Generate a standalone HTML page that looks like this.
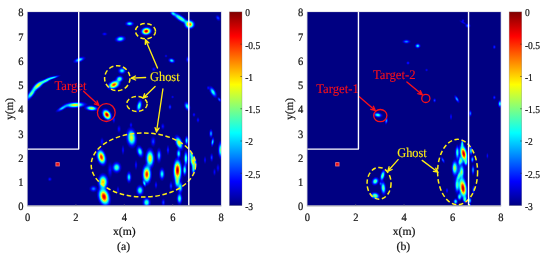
<!DOCTYPE html>
<html><head><meta charset="utf-8"><title>Imaging results</title>
<style>
html,body{margin:0;padding:0;background:#fff}
svg{display:block}
text{font-family:"Liberation Serif","Times New Roman",serif;text-rendering:geometricPrecision}
.t{font-size:11.3px;fill:#111;stroke:#111;stroke-width:.22px}
.c{font-size:10.5px;fill:#111;stroke:#111;stroke-width:.2px}
.l{font-size:11.7px;fill:#111;stroke:#111;stroke-width:.2px}
.a{font-size:13.3px;stroke-width:.12px}
</style></head><body>
<svg width="550" height="257" viewBox="0 0 550 257">
<defs>
<radialGradient id="gb">
<stop offset="0" stop-color="#fff" stop-opacity="1"/>
<stop offset=".15" stop-color="#fff" stop-opacity=".93"/>
<stop offset=".3" stop-color="#fff" stop-opacity=".75"/>
<stop offset=".45" stop-color="#fff" stop-opacity=".52"/>
<stop offset=".6" stop-color="#fff" stop-opacity=".31"/>
<stop offset=".75" stop-color="#fff" stop-opacity=".15"/>
<stop offset=".9" stop-color="#fff" stop-opacity=".045"/>
<stop offset="1" stop-color="#fff" stop-opacity="0"/>
</radialGradient>
<linearGradient id="cb" x1="0" y1="0" x2="0" y2="1">
<stop offset="0" stop-color="#800000"/><stop offset=".125" stop-color="#ff0000"/>
<stop offset=".375" stop-color="#ffff00"/><stop offset=".625" stop-color="#00ffff"/>
<stop offset=".875" stop-color="#0000ff"/><stop offset="1" stop-color="#000082"/>
</linearGradient>
<clipPath id="cja"><rect x="27.5" y="11.9" width="193.6" height="193.7"/></clipPath><filter id="ja" filterUnits="userSpaceOnUse" x="26.5" y="10.9" width="195.6" height="195.7" color-interpolation-filters="sRGB"><feComponentTransfer><feFuncR type="table" tableValues="0 0 0 0 .5 1 1 1 .5"/><feFuncG type="table" tableValues="0 0 .5 1 1 1 .5 0 0"/><feFuncB type="table" tableValues=".51 1 1 1 .5 0 0 0 0"/></feComponentTransfer></filter>
<clipPath id="cjb"><rect x="307.25" y="11.9" width="193.6" height="193.7"/></clipPath><filter id="jb" filterUnits="userSpaceOnUse" x="306.25" y="10.9" width="195.6" height="195.7" color-interpolation-filters="sRGB"><feComponentTransfer><feFuncR type="table" tableValues="0 0 0 0 .5 1 1 1 .5"/><feFuncG type="table" tableValues="0 0 .5 1 1 1 .5 0 0"/><feFuncB type="table" tableValues=".51 1 1 1 .5 0 0 0 0"/></feComponentTransfer></filter>
</defs>
<rect width="550" height="257" fill="#fff"/>
<g clip-path="url(#cja)"><g filter="url(#ja)"><rect x="25.5" y="9.9" width="197.6" height="197.7" fill="#000"/>
<ellipse cx="79.3" cy="59.8" rx="7.4" ry="3.1" fill="url(#gb)" opacity="0.4" transform="rotate(-20 79.3 59.8)"/>
<ellipse cx="31.5" cy="93.5" rx="10.8" ry="3.5" fill="url(#gb)" opacity="0.5" transform="rotate(-54 31.5 93.5)"/>
<ellipse cx="38" cy="85.5" rx="9.5" ry="3.8" fill="url(#gb)" opacity="0.62" transform="rotate(-40 38 85.5)"/>
<ellipse cx="46" cy="80.6" rx="10.8" ry="2.7" fill="url(#gb)" opacity="0.46" transform="rotate(-28 46 80.6)"/>
<ellipse cx="53.5" cy="77.6" rx="8.1" ry="1.8" fill="url(#gb)" opacity="0.36" transform="rotate(-18 53.5 77.6)"/>
<ellipse cx="62.5" cy="108" rx="8.8" ry="2.7" fill="url(#gb)" opacity="0.36" transform="rotate(-30 62.5 108)"/>
<ellipse cx="75" cy="105" rx="13.5" ry="3.8" fill="url(#gb)" opacity="0.64" transform="rotate(-3 75 105)"/>
<ellipse cx="91.5" cy="108.3" rx="8.1" ry="3.4" fill="url(#gb)" opacity="0.58" transform="rotate(5 91.5 108.3)"/>
<ellipse cx="106.9" cy="114.7" rx="7.6" ry="5.2" fill="url(#gb)" opacity="0.97" transform="rotate(58 106.9 114.7)"/>
<ellipse cx="113.8" cy="119.5" rx="2.0" ry="4.7" fill="url(#gb)" opacity="0.16"/>
<ellipse cx="129.6" cy="23.7" rx="5.4" ry="3.1" fill="url(#gb)" opacity="0.4"/>
<ellipse cx="120.3" cy="39" rx="6.5" ry="3.9" fill="url(#gb)" opacity="0.43" transform="rotate(-10 120.3 39)"/>
<ellipse cx="104.6" cy="34" rx="3.4" ry="2.2" fill="url(#gb)" opacity="0.15"/>
<ellipse cx="146.3" cy="31.2" rx="6.6" ry="5.0" fill="url(#gb)" opacity="0.96" transform="rotate(-10 146.3 31.2)"/>
<ellipse cx="122" cy="70.7" rx="4.9" ry="4.1" fill="url(#gb)" opacity="0.4"/>
<ellipse cx="119.5" cy="79" rx="4.9" ry="4.1" fill="url(#gb)" opacity="0.5" transform="rotate(-20 119.5 79)"/>
<ellipse cx="114" cy="84.7" rx="8.4" ry="5.1" fill="url(#gb)" opacity="0.84" transform="rotate(-25 114 84.7)"/>
<ellipse cx="139.3" cy="105.8" rx="3.4" ry="8.0" fill="url(#gb)" opacity="0.46" transform="rotate(12 139.3 105.8)"/>
<ellipse cx="153.8" cy="69.2" rx="2.7" ry="2.7" fill="url(#gb)" opacity="0.16"/>
<ellipse cx="171.7" cy="60.6" rx="4.3" ry="3.1" fill="url(#gb)" opacity="0.38" transform="rotate(20 171.7 60.6)"/>
<ellipse cx="188" cy="59.5" rx="2.7" ry="4.1" fill="url(#gb)" opacity="0.2"/>
<ellipse cx="187.2" cy="106.3" rx="3.5" ry="5.8" fill="url(#gb)" opacity="0.4" transform="rotate(-20 187.2 106.3)"/>
<ellipse cx="170" cy="107" rx="2.0" ry="3.4" fill="url(#gb)" opacity="0.2"/>
<ellipse cx="189.5" cy="24.4" rx="6.5" ry="5.7" fill="url(#gb)" opacity="0.82"/>
<ellipse cx="180.5" cy="18.3" rx="13.5" ry="3.8" fill="url(#gb)" opacity="0.5" transform="rotate(34 180.5 18.3)"/>
<ellipse cx="173" cy="13.5" rx="4.0" ry="2.8" fill="url(#gb)" opacity="0.3" transform="rotate(34 173 13.5)"/>
<ellipse cx="213" cy="92" rx="3.5" ry="7.8" fill="url(#gb)" opacity="0.42" transform="rotate(-30 213 92)"/>
<ellipse cx="219.3" cy="99.5" rx="2.0" ry="3.4" fill="url(#gb)" opacity="0.25" transform="rotate(-30 219.3 99.5)"/>
<ellipse cx="211" cy="133.6" rx="2.36" ry="5.55" fill="url(#gb)" opacity="0.3"/>
<ellipse cx="194" cy="114.7" rx="2.0" ry="2.7" fill="url(#gb)" opacity="0.15"/>
<ellipse cx="172.6" cy="97" rx="2.0" ry="2.0" fill="url(#gb)" opacity="0.12"/>
<ellipse cx="218" cy="18" rx="2.7" ry="4.1" fill="url(#gb)" opacity="0.2" transform="rotate(-30 218 18)"/>
<ellipse cx="166" cy="56" rx="2.0" ry="2.0" fill="url(#gb)" opacity="0.12"/>
<ellipse cx="208.2" cy="87.9" rx="2.0" ry="2.7" fill="url(#gb)" opacity="0.14"/>
<ellipse cx="49.8" cy="179.2" rx="2.6" ry="2.6" fill="url(#gb)" opacity="0.16"/>
<ellipse cx="93.5" cy="188.8" rx="4.84" ry="4.13" fill="url(#gb)" opacity="0.26"/>
<ellipse cx="101.4" cy="157.1" rx="5.66" ry="10.38" fill="url(#gb)" opacity="0.86" transform="rotate(-15 101.4 157.1)"/>
<ellipse cx="116.6" cy="167.5" rx="5.66" ry="6.84" fill="url(#gb)" opacity="0.47"/>
<ellipse cx="131.5" cy="137.7" rx="6.37" ry="11.8" fill="url(#gb)" opacity="0.62" transform="rotate(-5 131.5 137.7)"/>
<ellipse cx="140" cy="151.6" rx="4.13" ry="7.55" fill="url(#gb)" opacity="0.43" transform="rotate(-15 140 151.6)"/>
<ellipse cx="150" cy="158.5" rx="5.55" ry="12.15" fill="url(#gb)" opacity="0.67"/>
<ellipse cx="146.8" cy="174.3" rx="5.78" ry="12.15" fill="url(#gb)" opacity="0.86"/>
<ellipse cx="103" cy="182" rx="6.37" ry="9.91" fill="url(#gb)" opacity="0.7"/>
<ellipse cx="104" cy="196.7" rx="7.32" ry="12.15" fill="url(#gb)" opacity="0.93" transform="rotate(-15 104 196.7)"/>
<ellipse cx="129" cy="177.2" rx="3.19" ry="7.08" fill="url(#gb)" opacity="0.38"/>
<ellipse cx="144.3" cy="183.5" rx="2.12" ry="4.72" fill="url(#gb)" opacity="0.34" transform="rotate(-20 144.3 183.5)"/>
<ellipse cx="110" cy="170" rx="3.19" ry="9.56" fill="url(#gb)" opacity="0.15"/>
<ellipse cx="153.2" cy="141.5" rx="3.19" ry="6.37" fill="url(#gb)" opacity="0.2"/>
<ellipse cx="102" cy="141.5" rx="2.36" ry="4.84" fill="url(#gb)" opacity="0.15"/>
<ellipse cx="119" cy="129" rx="2.36" ry="4.84" fill="url(#gb)" opacity="0.15"/>
<ellipse cx="140" cy="190.4" rx="4.72" ry="6.61" fill="url(#gb)" opacity="0.45"/>
<ellipse cx="146.6" cy="202.5" rx="4.96" ry="6.37" fill="url(#gb)" opacity="0.46"/>
<ellipse cx="159" cy="155.4" rx="3.19" ry="8.85" fill="url(#gb)" opacity="0.33"/>
<ellipse cx="162" cy="174" rx="3.54" ry="7.67" fill="url(#gb)" opacity="0.4"/>
<ellipse cx="179" cy="142.8" rx="4.48" ry="9.44" fill="url(#gb)" opacity="0.64" transform="rotate(-20 179 142.8)"/>
<ellipse cx="186.6" cy="140.6" rx="2.36" ry="5.9" fill="url(#gb)" opacity="0.38"/>
<ellipse cx="177.5" cy="176" rx="6.49" ry="18.88" fill="url(#gb)" opacity="0.2"/>
<ellipse cx="177.5" cy="170.2" rx="5.19" ry="14.16" fill="url(#gb)" opacity="0.95"/>
<ellipse cx="185.9" cy="158.5" rx="2.83" ry="10.03" fill="url(#gb)" opacity="0.45"/>
<ellipse cx="184.7" cy="170" rx="2.6" ry="7.67" fill="url(#gb)" opacity="0.44"/>
<ellipse cx="193.2" cy="161.5" rx="4.37" ry="8.85" fill="url(#gb)" opacity="0.67" transform="rotate(-15 193.2 161.5)"/>
<ellipse cx="191.2" cy="154.5" rx="2.6" ry="5.9" fill="url(#gb)" opacity="0.38" transform="rotate(-15 191.2 154.5)"/>
<ellipse cx="193.5" cy="169" rx="2.83" ry="7.67" fill="url(#gb)" opacity="0.4"/>
<ellipse cx="178.7" cy="153.6" rx="2.95" ry="6.49" fill="url(#gb)" opacity="0.4"/>
<ellipse cx="177.3" cy="182" rx="3.3" ry="7.67" fill="url(#gb)" opacity="0.4"/>
<ellipse cx="180.3" cy="187.5" rx="3.3" ry="7.67" fill="url(#gb)" opacity="0.4"/>
<ellipse cx="179.5" cy="198.5" rx="3.54" ry="7.67" fill="url(#gb)" opacity="0.44"/>
<ellipse cx="163.3" cy="202.5" rx="2.36" ry="4.84" fill="url(#gb)" opacity="0.2"/>
<ellipse cx="221" cy="150" rx="3.78" ry="10.62" fill="url(#gb)" opacity="0.5"/>
<ellipse cx="211.7" cy="157.5" rx="2.12" ry="5.31" fill="url(#gb)" opacity="0.2"/>
<ellipse cx="218" cy="168" rx="2.12" ry="5.31" fill="url(#gb)" opacity="0.13"/>
<ellipse cx="162.8" cy="126.4" rx="2.36" ry="4.01" fill="url(#gb)" opacity="0.15"/>
<ellipse cx="131" cy="125" rx="2.0" ry="3.4" fill="url(#gb)" opacity="0.15"/>
<ellipse cx="198" cy="120" rx="2.0" ry="3.4" fill="url(#gb)" opacity="0.15"/>
<ellipse cx="212.6" cy="142" rx="2.12" ry="5.9" fill="url(#gb)" opacity="0.36" transform="rotate(8 212.6 142)"/>
<ellipse cx="214.5" cy="172" rx="1.89" ry="4.72" fill="url(#gb)" opacity="0.13"/>
<ellipse cx="205" cy="160" rx="1.77" ry="4.72" fill="url(#gb)" opacity="0.14"/>
<ellipse cx="168" cy="150" rx="1.89" ry="5.9" fill="url(#gb)" opacity="0.18"/>
<ellipse cx="171" cy="186" rx="2.12" ry="5.9" fill="url(#gb)" opacity="0.2"/>
<ellipse cx="123" cy="150" rx="1.89" ry="5.9" fill="url(#gb)" opacity="0.15"/>
<ellipse cx="136" cy="165" rx="1.89" ry="5.9" fill="url(#gb)" opacity="0.15"/>
<ellipse cx="156" cy="185" rx="1.89" ry="4.72" fill="url(#gb)" opacity="0.16"/>
<ellipse cx="118" cy="190" rx="1.89" ry="4.72" fill="url(#gb)" opacity="0.14"/></g></g>
<g clip-path="url(#cjb)"><g filter="url(#jb)"><rect x="305.25" y="9.9" width="197.6" height="197.7" fill="#000"/>
<ellipse cx="377.8" cy="115" rx="5.7" ry="3.2" fill="url(#gb)" opacity="0.43" transform="rotate(10 377.8 115)"/>
<ellipse cx="386.4" cy="120.8" rx="2.0" ry="4.4" fill="url(#gb)" opacity="0.3" transform="rotate(10 386.4 120.8)"/>
<ellipse cx="408" cy="63" rx="2.2" ry="2.2" fill="url(#gb)" opacity="0.18"/>
<ellipse cx="406.4" cy="41.6" rx="4.9" ry="2.6" fill="url(#gb)" opacity="0.27"/>
<ellipse cx="417.7" cy="45.9" rx="3.5" ry="3.1" fill="url(#gb)" opacity="0.38"/>
<ellipse cx="463" cy="20.6" rx="2.0" ry="2.0" fill="url(#gb)" opacity="0.12"/>
<ellipse cx="434.6" cy="100.4" rx="2.0" ry="2.7" fill="url(#gb)" opacity="0.2"/>
<ellipse cx="456.9" cy="99.1" rx="2.2" ry="5.4" fill="url(#gb)" opacity="0.3" transform="rotate(-30 456.9 99.1)"/>
<ellipse cx="451" cy="116.8" rx="1.6" ry="4.1" fill="url(#gb)" opacity="0.15"/>
<ellipse cx="426.6" cy="70" rx="2.0" ry="2.0" fill="url(#gb)" opacity="0.12"/>
<ellipse cx="467.8" cy="25.7" rx="3.4" ry="2.7" fill="url(#gb)" opacity="0.25"/>
<ellipse cx="463" cy="22.5" rx="5.4" ry="1.6" fill="url(#gb)" opacity="0.12" transform="rotate(30 463 22.5)"/>
<ellipse cx="494.3" cy="47" rx="2.0" ry="2.7" fill="url(#gb)" opacity="0.18"/>
<ellipse cx="500" cy="103.8" rx="2.7" ry="4.7" fill="url(#gb)" opacity="0.4"/>
<ellipse cx="494.3" cy="97.5" rx="2.0" ry="2.7" fill="url(#gb)" opacity="0.18"/>
<ellipse cx="470.3" cy="113.4" rx="2.0" ry="4.1" fill="url(#gb)" opacity="0.25"/>
<ellipse cx="460" cy="172" rx="8.5" ry="32.0" fill="url(#gb)" opacity="0.2"/>
<ellipse cx="463.7" cy="153.7" rx="4.84" ry="12.1" fill="url(#gb)" opacity="0.94" transform="rotate(-12 463.7 153.7)"/>
<ellipse cx="462.3" cy="143.6" rx="2.09" ry="6.05" fill="url(#gb)" opacity="0.38"/>
<ellipse cx="457.3" cy="152.3" rx="2.53" ry="8.8" fill="url(#gb)" opacity="0.42"/>
<ellipse cx="454.6" cy="168" rx="3.63" ry="9.35" fill="url(#gb)" opacity="0.56"/>
<ellipse cx="460" cy="162" rx="2.31" ry="4.4" fill="url(#gb)" opacity="0.38"/>
<ellipse cx="466" cy="162.3" rx="2.31" ry="4.95" fill="url(#gb)" opacity="0.38"/>
<ellipse cx="461.8" cy="172" rx="2.75" ry="8.25" fill="url(#gb)" opacity="0.43"/>
<ellipse cx="463" cy="188.2" rx="5.17" ry="13.75" fill="url(#gb)" opacity="0.95" transform="rotate(-8 463 188.2)"/>
<ellipse cx="457.1" cy="185" rx="2.97" ry="9.9" fill="url(#gb)" opacity="0.43"/>
<ellipse cx="459.5" cy="196.8" rx="2.86" ry="4.95" fill="url(#gb)" opacity="0.42"/>
<ellipse cx="464.9" cy="199.5" rx="2.86" ry="4.95" fill="url(#gb)" opacity="0.42"/>
<ellipse cx="455.6" cy="201.5" rx="2.86" ry="3.85" fill="url(#gb)" opacity="0.42"/>
<ellipse cx="471" cy="150.8" rx="2.09" ry="6.05" fill="url(#gb)" opacity="0.38"/>
<ellipse cx="472.4" cy="159.5" rx="2.09" ry="4.4" fill="url(#gb)" opacity="0.34"/>
<ellipse cx="469.8" cy="200.5" rx="2.31" ry="4.4" fill="url(#gb)" opacity="0.38"/>
<ellipse cx="442.9" cy="160" rx="1.87" ry="4.4" fill="url(#gb)" opacity="0.24" transform="rotate(-25 442.9 160)"/>
<ellipse cx="447" cy="190.6" rx="1.76" ry="3.3" fill="url(#gb)" opacity="0.17"/>
<ellipse cx="487.4" cy="155.8" rx="1.54" ry="3.74" fill="url(#gb)" opacity="0.13"/>
<ellipse cx="469.4" cy="205" rx="1.76" ry="1.54" fill="url(#gb)" opacity="0.8"/>
<ellipse cx="473" cy="170" rx="1.98" ry="6.6" fill="url(#gb)" opacity="0.3"/>
<ellipse cx="473.5" cy="190" rx="1.76" ry="5.5" fill="url(#gb)" opacity="0.25"/>
<ellipse cx="459" cy="176" rx="2.42" ry="6.6" fill="url(#gb)" opacity="0.36" transform="rotate(20 459 176)"/>
<ellipse cx="461" cy="160" rx="2.2" ry="5.5" fill="url(#gb)" opacity="0.34" transform="rotate(-20 461 160)"/>
<ellipse cx="382.6" cy="175.6" rx="3.0" ry="7.6" fill="url(#gb)" opacity="0.5" transform="rotate(15 382.6 175.6)"/>
<ellipse cx="375.3" cy="181.3" rx="4.2" ry="5.2" fill="url(#gb)" opacity="0.5" transform="rotate(30 375.3 181.3)"/>
<ellipse cx="383.3" cy="188" rx="3.4" ry="8.8" fill="url(#gb)" opacity="0.5" transform="rotate(-5 383.3 188)"/>
<ellipse cx="375.2" cy="195.8" rx="5.8" ry="4.4" fill="url(#gb)" opacity="0.55" transform="rotate(15 375.2 195.8)"/>
<ellipse cx="380.5" cy="183.5" rx="1.8" ry="3.0" fill="url(#gb)" opacity="0.2"/></g></g>
<g fill="none" stroke="#ffee14" stroke-width="1.5" stroke-dasharray="4.6 2.6">
<ellipse cx="145.5" cy="31.2" rx="10" ry="7.6"/>
<ellipse cx="117.3" cy="78.2" rx="12.7" ry="12.5"/>
<ellipse cx="137" cy="103.9" rx="10.2" ry="7.5"/>
<ellipse cx="143.4" cy="165" rx="52.2" ry="32"/>
</g>
<circle cx="106.3" cy="112.6" r="8.9" fill="none" stroke="#f8101a" stroke-width="1.3"/>
<path d="M157.5 68.0L145.5 39.8M149.0 42.9L145.5 39.8L145.3 44.4" fill="none" stroke="#ffee14" stroke-width="1.35" stroke-linecap="round" stroke-linejoin="round"/>
<path d="M145.6 77.5L131.3 78.2M135.4 76.0L131.3 78.2L135.6 80.0" fill="none" stroke="#ffee14" stroke-width="1.35" stroke-linecap="round" stroke-linejoin="round"/>
<path d="M155.1 86.5L143.0 98.2M144.6 93.8L143.0 98.2L147.4 96.7" fill="none" stroke="#ffee14" stroke-width="1.35" stroke-linecap="round" stroke-linejoin="round"/>
<path d="M162.9 89.0L156.5 132.0M155.1 127.6L156.5 132.0L159.1 128.1" fill="none" stroke="#ffee14" stroke-width="1.35" stroke-linecap="round" stroke-linejoin="round"/>
<path d="M83.6 91.2L98.8 105.3M94.4 103.9L98.8 105.3L97.1 101.0" fill="none" stroke="#f8101a" stroke-width="1.35" stroke-linecap="round" stroke-linejoin="round"/>
<text transform="translate(54.4 90.0) scale(0.955 1)" text-anchor="start" class="a" fill="#f8101a" stroke="#f8101a">Target</text>
<text x="150" y="80.5" class="a" fill="#ffee14" stroke="#ffee14" style="font-size:13.2px" textLength="29.6" lengthAdjust="spacingAndGlyphs">Ghost</text>
<g fill="none" stroke="#ffee14" stroke-width="1.5" stroke-dasharray="4.6 2.6">
<ellipse cx="379.05" cy="183.3" rx="12" ry="15.9"/>
<ellipse cx="457.6" cy="172" rx="20" ry="32.7"/>
</g>
<ellipse cx="380.3" cy="115.6" rx="6.6" ry="6.1" fill="none" stroke="#f8101a" stroke-width="1.3"/>
<circle cx="425.8" cy="98.4" r="4.1" fill="none" stroke="#f8101a" stroke-width="1.3"/>
<path d="M359.0 96.6L375.3 110.5M370.8 109.3L375.3 110.5L373.4 106.3" fill="none" stroke="#f8101a" stroke-width="1.35" stroke-linecap="round" stroke-linejoin="round"/>
<path d="M406.9 82.0L422.3 94.8M417.8 93.7L422.3 94.8L420.3 90.6" fill="none" stroke="#f8101a" stroke-width="1.35" stroke-linecap="round" stroke-linejoin="round"/>
<path d="M398.1 159.6L387.8 171.3M389.1 166.8L387.8 171.3L392.1 169.5" fill="none" stroke="#ffee14" stroke-width="1.35" stroke-linecap="round" stroke-linejoin="round"/>
<path d="M422.2 160.4L438.0 172.2M433.4 171.3L438.0 172.2L435.8 168.1" fill="none" stroke="#ffee14" stroke-width="1.35" stroke-linecap="round" stroke-linejoin="round"/>
<text transform="translate(316.2 93.0) scale(0.955 1)" text-anchor="start" class="a" fill="#f8101a" stroke="#f8101a">Target-1</text>
<text transform="translate(373.0 79.1) scale(0.955 1)" text-anchor="start" class="a" fill="#f8101a" stroke="#f8101a">Target-2</text>
<text x="397.2" y="156.7" class="a" fill="#ffee14" stroke="#ffee14" style="font-size:13.2px" textLength="29.6" lengthAdjust="spacingAndGlyphs">Ghost</text>
<path d="M78.7 11.9V149.1H27.5M188.8 11.9V205.6" fill="none" stroke="#fff" stroke-width="1.4" stroke-linejoin="round"/><rect x="55.9" y="162.6" width="3.4" height="3.4" fill="#f21414" stroke="#e87a8a" stroke-width="0.8"/>
<path d="M358.45 11.9V149.1H307.25M468.55 11.9V205.6" fill="none" stroke="#fff" stroke-width="1.4" stroke-linejoin="round"/><rect x="335.65" y="162.6" width="3.4" height="3.4" fill="#f21414" stroke="#e87a8a" stroke-width="0.8"/>
<path d="M27.4 11.9V206.0" fill="none" stroke="#aab" stroke-width="0.5"/>
<path d="M27.2 206.0H221.4" fill="none" stroke="#a4a4a4" stroke-width="0.9"/>
<path d="M27.2 11.700000000000001H221.4V206.0" fill="none" stroke="#c8c8d8" stroke-width="0.5"/>
<path d="M75.90 205.6v-1.6M124.30 205.6v-1.6M172.70 205.6v-1.6" stroke="#667" stroke-width="0.6" fill="none"/>
<text transform="translate(27.6 220.8) scale(0.93 1)" text-anchor="middle" class="t">0</text>
<text transform="translate(76.0 220.8) scale(0.93 1)" text-anchor="middle" class="t">2</text>
<text transform="translate(124.4 220.8) scale(0.93 1)" text-anchor="middle" class="t">4</text>
<text transform="translate(172.8 220.8) scale(0.93 1)" text-anchor="middle" class="t">6</text>
<text transform="translate(221.2 220.8) scale(0.93 1)" text-anchor="middle" class="t">8</text>
<text transform="translate(23.5 210.1) scale(0.93 1)" text-anchor="end" class="t">0</text>
<text transform="translate(23.5 185.9) scale(0.93 1)" text-anchor="end" class="t">1</text>
<text transform="translate(23.5 161.7) scale(0.93 1)" text-anchor="end" class="t">2</text>
<text transform="translate(23.5 137.5) scale(0.93 1)" text-anchor="end" class="t">3</text>
<text transform="translate(23.5 113.2) scale(0.93 1)" text-anchor="end" class="t">4</text>
<text transform="translate(23.5 89.0) scale(0.93 1)" text-anchor="end" class="t">5</text>
<text transform="translate(23.5 64.8) scale(0.93 1)" text-anchor="end" class="t">6</text>
<text transform="translate(23.5 40.6) scale(0.93 1)" text-anchor="end" class="t">7</text>
<text transform="translate(23.5 16.4) scale(0.93 1)" text-anchor="end" class="t">8</text>
<text x="124.3" y="234.8" text-anchor="middle" class="l">x(m)</text>
<text x="123.6" y="250.0" text-anchor="middle" class="l">(a)</text>
<text x="13.5" y="108.9" text-anchor="middle" class="l" style="font-size:11.2px" transform="rotate(-90 13.5 108.9)">y(m)</text>
<rect x="229.4" y="11.9" width="12.6" height="193.7" fill="url(#cb)"/>
<rect x="229.4" y="11.9" width="12.6" height="193.7" fill="none" stroke="#777" stroke-opacity=".6" stroke-width="0.5"/>
<text transform="translate(245.2 16.2) scale(0.905 1)" text-anchor="start" class="c">0</text>
<text transform="translate(245.2 48.5) scale(0.905 1)" text-anchor="start" class="c">-0.5</text>
<text transform="translate(245.2 80.8) scale(0.905 1)" text-anchor="start" class="c">-1</text>
<text transform="translate(245.2 113.0) scale(0.905 1)" text-anchor="start" class="c">-1.5</text>
<text transform="translate(245.2 145.3) scale(0.905 1)" text-anchor="start" class="c">-2</text>
<text transform="translate(245.2 177.6) scale(0.905 1)" text-anchor="start" class="c">-2.5</text>
<text transform="translate(245.2 209.9) scale(0.905 1)" text-anchor="start" class="c">-3</text>
<path d="M242.0 44.18h-1.6M242.0 76.47h-1.6M242.0 108.75h-1.6M242.0 141.03h-1.6M242.0 173.32h-1.6" stroke="#333" stroke-width="0.6" fill="none"/>
<path d="M307.15 11.9V206.0" fill="none" stroke="#aab" stroke-width="0.5"/>
<path d="M306.95 206.0H501.15000000000003" fill="none" stroke="#a4a4a4" stroke-width="0.9"/>
<path d="M306.95 11.700000000000001H501.15000000000003V206.0" fill="none" stroke="#c8c8d8" stroke-width="0.5"/>
<path d="M355.65 205.6v-1.6M404.05 205.6v-1.6M452.45 205.6v-1.6" stroke="#667" stroke-width="0.6" fill="none"/>
<text transform="translate(307.4 220.8) scale(0.93 1)" text-anchor="middle" class="t">0</text>
<text transform="translate(355.8 220.8) scale(0.93 1)" text-anchor="middle" class="t">2</text>
<text transform="translate(404.2 220.8) scale(0.93 1)" text-anchor="middle" class="t">4</text>
<text transform="translate(452.6 220.8) scale(0.93 1)" text-anchor="middle" class="t">6</text>
<text transform="translate(501.0 220.8) scale(0.93 1)" text-anchor="middle" class="t">8</text>
<text transform="translate(303.2 210.1) scale(0.93 1)" text-anchor="end" class="t">0</text>
<text transform="translate(303.2 185.9) scale(0.93 1)" text-anchor="end" class="t">1</text>
<text transform="translate(303.2 161.7) scale(0.93 1)" text-anchor="end" class="t">2</text>
<text transform="translate(303.2 137.5) scale(0.93 1)" text-anchor="end" class="t">3</text>
<text transform="translate(303.2 113.2) scale(0.93 1)" text-anchor="end" class="t">4</text>
<text transform="translate(303.2 89.0) scale(0.93 1)" text-anchor="end" class="t">5</text>
<text transform="translate(303.2 64.8) scale(0.93 1)" text-anchor="end" class="t">6</text>
<text transform="translate(303.2 40.6) scale(0.93 1)" text-anchor="end" class="t">7</text>
<text transform="translate(303.2 16.4) scale(0.93 1)" text-anchor="end" class="t">8</text>
<text x="404.1" y="234.8" text-anchor="middle" class="l">x(m)</text>
<text x="403.4" y="250.0" text-anchor="middle" class="l">(b)</text>
<text x="293.25" y="108.9" text-anchor="middle" class="l" style="font-size:11.2px" transform="rotate(-90 293.25 108.9)">y(m)</text>
<rect x="509.15" y="11.9" width="12.6" height="193.7" fill="url(#cb)"/>
<rect x="509.15" y="11.9" width="12.6" height="193.7" fill="none" stroke="#777" stroke-opacity=".6" stroke-width="0.5"/>
<text transform="translate(524.9 16.2) scale(0.905 1)" text-anchor="start" class="c">0</text>
<text transform="translate(524.9 48.5) scale(0.905 1)" text-anchor="start" class="c">-0.5</text>
<text transform="translate(524.9 80.8) scale(0.905 1)" text-anchor="start" class="c">-1</text>
<text transform="translate(524.9 113.0) scale(0.905 1)" text-anchor="start" class="c">-1.5</text>
<text transform="translate(524.9 145.3) scale(0.905 1)" text-anchor="start" class="c">-2</text>
<text transform="translate(524.9 177.6) scale(0.905 1)" text-anchor="start" class="c">-2.5</text>
<text transform="translate(524.9 209.9) scale(0.905 1)" text-anchor="start" class="c">-3</text>
<path d="M521.75 44.18h-1.6M521.75 76.47h-1.6M521.75 108.75h-1.6M521.75 141.03h-1.6M521.75 173.32h-1.6" stroke="#333" stroke-width="0.6" fill="none"/>
</svg>
</body></html>
